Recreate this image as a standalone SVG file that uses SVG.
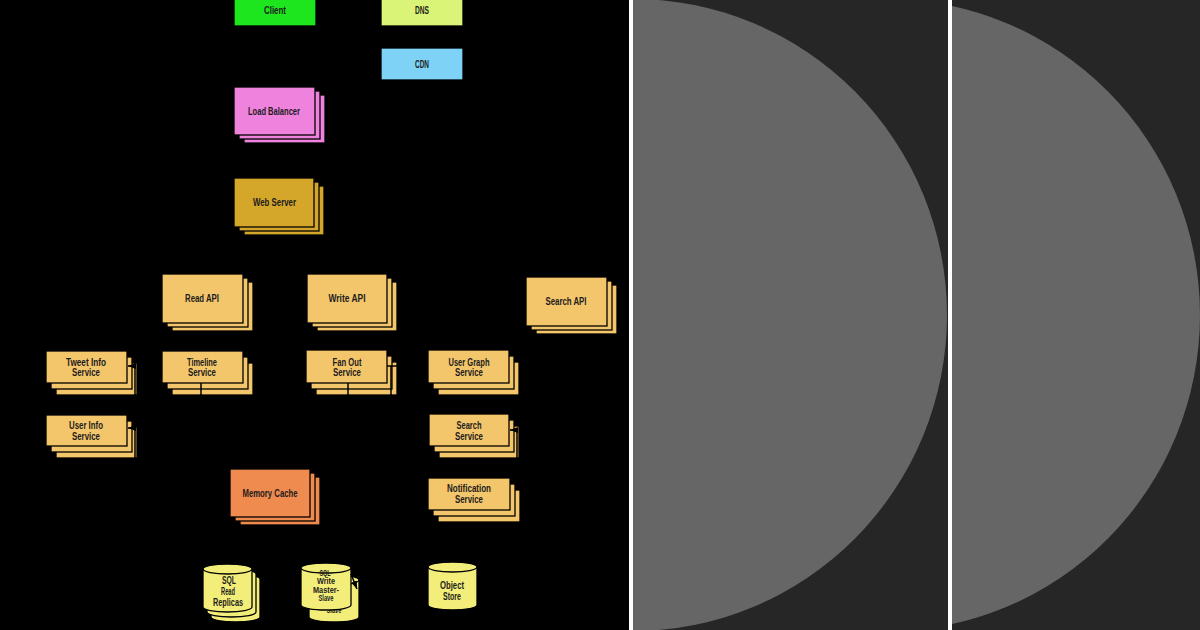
<svg xmlns="http://www.w3.org/2000/svg" width="1200" height="630" viewBox="0 0 1200 630">
<style>
.box rect{stroke:#000;stroke-width:1.3}
.svc rect{fill:#f4c66c}
.lb rect{fill:#ee82dc}
.web rect{fill:#d4a629}
.mem rect{fill:#ef8b4e}
.cyl path{fill:#f3ee7a;stroke:#000;stroke-width:1.3}
.cyl path.rim{fill:none}
text{font-family:"Liberation Sans",Arial,sans-serif;font-weight:bold;fill:#1c1c1c;text-anchor:middle}
.t11{font-size:11.5px}
.t10{font-size:11px}
.t9{font-size:9px}
.conn path{fill:none;stroke:#000;stroke-width:1.5}
</style>
<defs>
<marker id="ah" viewBox="0 0 8 6" refX="8" refY="3" markerWidth="8" markerHeight="6" markerUnits="userSpaceOnUse" orient="auto">
<path d="M0,0 L8,3 L0,6 z" fill="#000"/>
</marker>
<clipPath id="p1"><rect x="633" y="0" width="315" height="630"/></clipPath>
<clipPath id="p2"><rect x="952" y="0" width="248" height="630"/></clipPath>
</defs>
<rect x="0" y="0" width="1200" height="630" fill="#000"/>
<g id="panels">
<rect x="633" y="0" width="315" height="630" fill="#262626"/>
<ellipse cx="633" cy="315" rx="314" ry="316" fill="#666" clip-path="url(#p1)"/>
<rect x="952" y="0" width="248" height="630" fill="#262626"/>
<ellipse cx="886" cy="315" rx="314" ry="316" fill="#666" clip-path="url(#p2)"/>
<rect x="629" y="0" width="4" height="630" fill="#fff"/>
<rect x="948" y="0" width="4" height="630" fill="#fff"/>
</g>

<g id="client" class="box"><rect x="234" y="-6" width="82" height="32" fill="#1ee61e"/><text class="t11" x="275" y="14" textLength="22" lengthAdjust="spacingAndGlyphs">Client</text></g>
<g id="dns" class="box"><rect x="381" y="-6" width="82" height="32" fill="#d9f477"/><text class="t11" x="422" y="14" textLength="14" lengthAdjust="spacingAndGlyphs">DNS</text></g>
<g id="cdn" class="box"><rect x="381" y="48" width="82" height="32" fill="#7dd2f5"/><text class="t11" x="422" y="67.8" textLength="14" lengthAdjust="spacingAndGlyphs">CDN</text></g>

<g id="load-balancer" class="box lb">
<rect x="244" y="95" width="81" height="48"/><rect x="239" y="91" width="81" height="48"/><rect x="234" y="87" width="81" height="48"/>
<text class="t11" x="274" y="114.8" textLength="52" lengthAdjust="spacingAndGlyphs">Load Balancer</text></g>

<g id="web-server" class="box web">
<rect x="244" y="186" width="80" height="49"/><rect x="239" y="182" width="80" height="49"/><rect x="234" y="178" width="80" height="49"/>
<text class="t11" x="274.5" y="206.2" textLength="43" lengthAdjust="spacingAndGlyphs">Web Server</text></g>

<g id="read-api" class="box svc">
<rect x="172" y="282" width="81" height="49"/><rect x="167" y="278" width="81" height="49"/><rect x="162" y="274" width="81" height="49"/>
<text class="t11" x="202" y="302.2" textLength="34" lengthAdjust="spacingAndGlyphs">Read API</text></g>

<g id="write-api" class="box svc">
<rect x="317" y="282" width="80" height="49"/><rect x="312" y="278" width="80" height="49"/><rect x="307" y="274" width="80" height="49"/>
<text class="t11" x="347" y="302.2" textLength="37" lengthAdjust="spacingAndGlyphs">Write API</text></g>

<g id="search-api" class="box svc">
<rect x="536" y="285" width="81" height="49"/><rect x="531" y="281" width="81" height="49"/><rect x="526" y="277" width="81" height="49"/>
<text class="t11" x="566" y="305.2" textLength="41" lengthAdjust="spacingAndGlyphs">Search API</text></g>

<g id="tweet-info" class="box svc">
<rect x="56" y="363" width="81" height="32"/><rect x="51" y="357" width="81" height="32"/><rect x="46" y="351" width="81" height="32"/>
<text class="t10" x="86" y="366" textLength="40" lengthAdjust="spacingAndGlyphs">Tweet Info</text>
<text class="t10" x="86" y="376" textLength="28" lengthAdjust="spacingAndGlyphs">Service</text></g>

<g id="timeline" class="box svc">
<rect x="172" y="363" width="81" height="32"/><rect x="167" y="357" width="81" height="32"/><rect x="162" y="351" width="81" height="32"/>
<text class="t10" x="202" y="366" textLength="30" lengthAdjust="spacingAndGlyphs">Timeline</text>
<text class="t10" x="202" y="376" textLength="28" lengthAdjust="spacingAndGlyphs">Service</text></g>

<g id="user-info" class="box svc">
<rect x="56" y="427" width="81" height="31"/><rect x="51" y="421" width="81" height="31"/><rect x="46" y="415" width="81" height="31"/>
<text class="t10" x="86" y="429" textLength="34" lengthAdjust="spacingAndGlyphs">User Info</text>
<text class="t10" x="86" y="440" textLength="28" lengthAdjust="spacingAndGlyphs">Service</text></g>

<g id="fan-out" class="box svc">
<rect x="316" y="362" width="81" height="33"/><rect x="311" y="356" width="81" height="33"/><rect x="306" y="350" width="81" height="33"/>
<text class="t10" x="347" y="366" textLength="29" lengthAdjust="spacingAndGlyphs">Fan Out</text>
<text class="t10" x="347" y="376" textLength="28" lengthAdjust="spacingAndGlyphs">Service</text></g>

<g id="user-graph" class="box svc">
<rect x="438" y="362" width="81" height="33"/><rect x="433" y="356" width="81" height="33"/><rect x="428" y="350" width="81" height="33"/>
<text class="t10" x="469" y="366" textLength="41" lengthAdjust="spacingAndGlyphs">User Graph</text>
<text class="t10" x="469" y="376" textLength="28" lengthAdjust="spacingAndGlyphs">Service</text></g>

<g id="search-service" class="box svc">
<rect x="439" y="426" width="80" height="32"/><rect x="434" y="420" width="80" height="32"/><rect x="429" y="414" width="80" height="32"/>
<text class="t10" x="469" y="429" textLength="25" lengthAdjust="spacingAndGlyphs">Search</text>
<text class="t10" x="469" y="440" textLength="28" lengthAdjust="spacingAndGlyphs">Service</text></g>

<g id="memory-cache" class="box mem">
<rect x="240" y="477" width="80" height="48"/><rect x="235" y="473" width="80" height="48"/><rect x="230" y="469" width="80" height="48"/>
<text class="t11" x="270" y="497.2" textLength="55" lengthAdjust="spacingAndGlyphs">Memory Cache</text></g>

<g id="notification" class="box svc">
<rect x="438" y="490" width="82" height="32"/><rect x="433" y="484" width="82" height="32"/><rect x="428" y="478" width="82" height="32"/>
<text class="t10" x="469" y="492" textLength="44" lengthAdjust="spacingAndGlyphs">Notification</text>
<text class="t10" x="469" y="503" textLength="28" lengthAdjust="spacingAndGlyphs">Service</text></g>

<g id="sql-read" class="cyl">
<path d="M211,579 A24.5,5 0 0 1 260,579 V617 A24.5,5 0 0 1 211,617 Z"/>
<path d="M207,574 A24.5,5 0 0 1 256,574 V612 A24.5,5 0 0 1 207,612 Z"/>
<path d="M203,569 A24.5,5 0 0 1 252,569 V607 A24.5,5 0 0 1 203,607 Z"/>
<path class="rim" d="M203,569 A24.5,5 0 0 0 252,569"/>
<text class="t10" x="229" y="584" textLength="14" lengthAdjust="spacingAndGlyphs">SQL</text>
<text class="t10" x="228" y="595" textLength="14" lengthAdjust="spacingAndGlyphs">Read</text>
<text class="t10" x="228" y="606" textLength="30" lengthAdjust="spacingAndGlyphs">Replicas</text></g>

<g id="sql-write" class="cyl">
<path d="M309,580 A25,5 0 0 1 359,580 V617 A25,5 0 0 1 309,617 Z"/>
<path class="rim" d="M309,580 A25,5 0 0 0 359,580"/>
<text class="t9" x="334" y="613.2" textLength="15" lengthAdjust="spacingAndGlyphs">Slave</text>
<path d="M301,568 A25,5 0 0 1 351,568 V605 A25,5 0 0 1 301,605 Z"/>
<path class="rim" d="M301,568 A25,5 0 0 0 351,568"/>
<text class="t9" x="325" y="576.2" textLength="11" lengthAdjust="spacingAndGlyphs">SQL</text>
<text class="t9" x="326" y="584.2" textLength="18" lengthAdjust="spacingAndGlyphs">Write</text>
<text class="t9" x="326" y="592.7" textLength="26" lengthAdjust="spacingAndGlyphs">Master-</text>
<text class="t9" x="326" y="601.2" textLength="15" lengthAdjust="spacingAndGlyphs">Slave</text></g>

<g id="object-store" class="cyl">
<path d="M428,567 A24.5,5 0 0 1 477,567 V605 A24.5,5 0 0 1 428,605 Z"/>
<path class="rim" d="M428,567 A24.5,5 0 0 0 477,567"/>
<text class="t10" x="452" y="589" textLength="24" lengthAdjust="spacingAndGlyphs">Object</text>
<text class="t10" x="452" y="600" textLength="18" lengthAdjust="spacingAndGlyphs">Store</text></g>

<g id="connectors" class="conn">
<path d="M162,300 H135 V366 H128" marker-end="url(#ah)"/>
<path d="M135,366 V428 H128" marker-end="url(#ah)"/>
<path d="M135,428 V590 H202" marker-end="url(#ah)"/>
<path d="M201,383 V493 H229" marker-end="url(#ah)"/>
<path d="M348,383 V493 H321" marker-end="url(#ah)"/>
<path d="M387,366 H427" marker-end="url(#ah)"/>
<path d="M391,366 V430 H428" marker-end="url(#ah)"/>
<path d="M391,430 V494 H427" marker-end="url(#ah)"/>
<path d="M566,335 V470 H517 V430 H510" marker-end="url(#ah)"/>
<path d="M351,574 L357,589" marker-end="url(#ah)"/>
</g>
</svg>
